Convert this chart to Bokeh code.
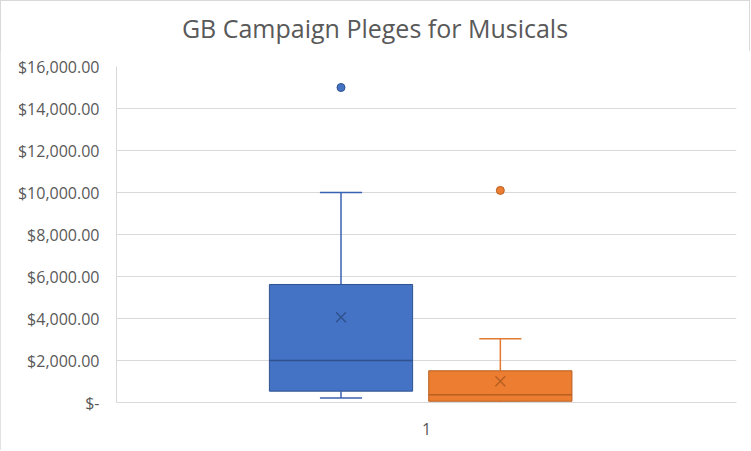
from bokeh.plotting import figure
from bokeh.models import Range1d, FixedTicker, ColumnDataSource, Div
from bokeh.layouts import column
from bokeh.embed import file_html
from bokeh.resources import INLINE

# ---- data ----
title_text = "GB Campaign Pleges for Musicals"
category_label = "1"
series_names = ["Series 1", "Series 2"]
minimum = [220, 0]
q1 = [540, 60]
median = [2000, 370]
q3 = [5620, 1510]
maximum = [10000, 3030]
mean = [4060, 1010]
outliers = [[15000], [10100]]
y_ticks = [0, 2000, 4000, 6000, 8000, 10000, 12000, 14000, 16000]

# ---- styles ----
fill_colors = ["#4472C4", "#ED7D31"]
edge_colors = ["#2F528F", "#B85F22"]
whisker_colors = ["#3A62B2", "#E27A32"]
text_color = "#595959"
grid_color = "#d9d9d9"
font = "Open Sans"

# ---- layout in x data space (0..1 spans the category) ----
group_center = 0.4906
series_spacing = 0.257
box_width = 0.231
cap_width = 0.068
n = len(series_names)
xs = [group_center + (i - (n - 1) / 2) * series_spacing for i in range(n)]

W = 750
TITLE_H = 50
PLOT_H = 400

title = Div(text=title_text, width=W, height=TITLE_H, margin=0,
            styles={"font-family": font, "font-size": "25px", "color": text_color,
                    "text-align": "center", "line-height": "56px",
                    "background-color": "white", "white-space": "nowrap",
                    "box-shadow": "inset 1px 1px 0 #d9d9d9, inset -1px 0 0 #d9d9d9"})

p = figure(width=W, height=PLOT_H, output_backend="svg", toolbar_location=None,
           x_range=Range1d(0, 1), y_range=Range1d(0, 16000))
p.min_border_left = 116
p.min_border_right = 14
p.min_border_top = 16
p.min_border_bottom = 48
p.outline_line_color = None
p.background_fill_color = "white"
p.border_fill_color = "white"

# grid
p.xgrid.grid_line_color = None
p.ygrid.grid_line_color = grid_color
p.ygrid.grid_line_width = 1
p.ygrid.ticker = FixedTicker(ticks=y_ticks)

# y axis
p.yaxis.ticker = FixedTicker(ticks=y_ticks)
p.yaxis.major_label_overrides = {t: ("$-" if t == 0 else f"${t:,.2f}") for t in y_ticks}
p.yaxis.axis_line_color = grid_color
p.yaxis.major_tick_line_color = None
p.yaxis.minor_tick_line_color = None
p.yaxis.major_label_standoff = 11
p.yaxis.major_label_text_font = font
p.yaxis.major_label_text_font_size = "16px"
p.yaxis.major_label_text_color = text_color

# x axis
p.xaxis.ticker = FixedTicker(ticks=[0.5])
p.xaxis.major_label_overrides = {0.5: category_label}
p.xaxis.axis_line_color = grid_color
p.xaxis.major_tick_line_color = None
p.xaxis.minor_tick_line_color = None
p.xaxis.major_label_standoff = 14
p.xaxis.major_label_text_font = font
p.xaxis.major_label_text_font_size = "16px"
p.xaxis.major_label_text_color = text_color

src = ColumnDataSource(dict(
    x=xs, q1=q1, q3=q3, med=median, lo=minimum, hi=maximum, mean=mean,
    fill=fill_colors, edge=edge_colors, wc=whisker_colors,
    x0=[x - box_width / 2 for x in xs], x1=[x + box_width / 2 for x in xs],
    c0=[x - cap_width / 2 for x in xs], c1=[x + cap_width / 2 for x in xs],
))

# whiskers
p.segment(x0="x", y0="q3", x1="x", y1="hi", source=src, line_color="wc", line_width=1.5)
p.segment(x0="x", y0="q1", x1="x", y1="lo", source=src, line_color="wc", line_width=1.5)
p.segment(x0="c0", y0="hi", x1="c1", y1="hi", source=src, line_color="wc", line_width=1.5)
p.segment(x0="c0", y0="lo", x1="c1", y1="lo", source=src, line_color="wc", line_width=1.5)

# boxes
p.vbar(x="x", width=box_width, bottom="q1", top="q3", source=src,
       fill_color="fill", line_color="edge", line_width=1)
# medians
p.segment(x0="x0", y0="med", x1="x1", y1="med", source=src, line_color="edge", line_width=1.5)
# means
p.scatter(x="x", y="mean", source=src, marker="x", size=14, line_color="edge", line_width=1.5)

# outliers
ox, oy, oc, oe = [], [], [], []
for i, vals in enumerate(outliers):
    for v in vals:
        ox.append(xs[i]); oy.append(v); oc.append(fill_colors[i]); oe.append(edge_colors[i])
p.scatter(x=ox, y=oy, marker="circle", size=8, fill_color=oc, line_color=oe, line_width=1)

layout = column(title, p, spacing=0)
layout.styles = {"outline": "1px solid #d9d9d9", "outline-offset": "-1px",
                 "background-color": "white"}

open("out.html", "w").write(file_html(layout, INLINE))
